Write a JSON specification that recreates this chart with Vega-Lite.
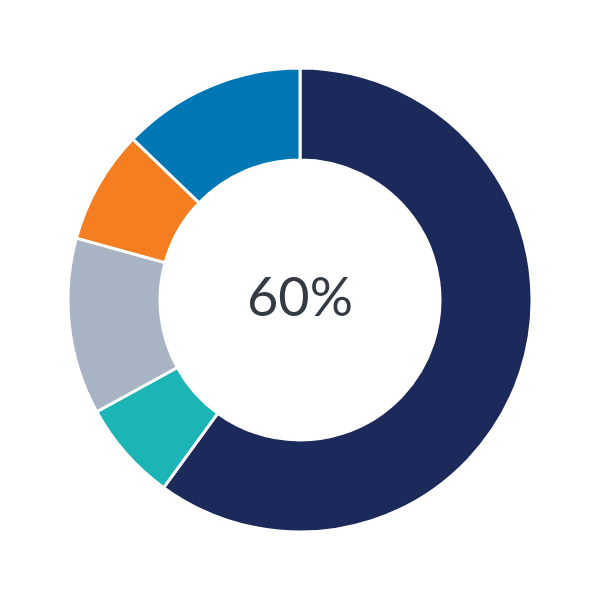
{
  "$schema": "https://vega.github.io/schema/vega-lite/v6.json",
  "width": 600,
  "height": 600,
  "autosize": {"type": "fit", "contains": "padding"},
  "padding": 0,
  "background": "white",
  "view": {"stroke": null},
  "layer": [
    {
      "data": {"values": [
        {"segment": "A", "value": 60, "order": 1},
        {"segment": "B", "value": 7, "order": 2},
        {"segment": "C", "value": 12.3, "order": 3},
        {"segment": "D", "value": 7.9, "order": 4},
        {"segment": "E", "value": 12.8, "order": 5}
      ]},
      "mark": {"type": "arc", "innerRadius": 140, "outerRadius": 232, "stroke": "white", "strokeWidth": 3},
      "encoding": {
        "theta": {"field": "value", "type": "quantitative", "stack": true},
        "order": {"field": "order", "type": "quantitative"},
        "color": {
          "field": "segment", "type": "nominal", "legend": null,
          "scale": {"domain": ["A", "B", "C", "D", "E"], "range": ["#1b2a5a", "#1bb5b5", "#a8b3c3", "#f47e20", "#0077b5"]}
        }
      }
    },
    {
      "data": {"values": [{"label": "60%"}]},
      "mark": {"type": "text", "font": "Lato", "fontWeight": 400, "fontSize": 54, "color": "#353b45", "align": "center", "baseline": "middle"},
      "encoding": {"text": {"field": "label", "type": "nominal"}}
    }
  ]
}
